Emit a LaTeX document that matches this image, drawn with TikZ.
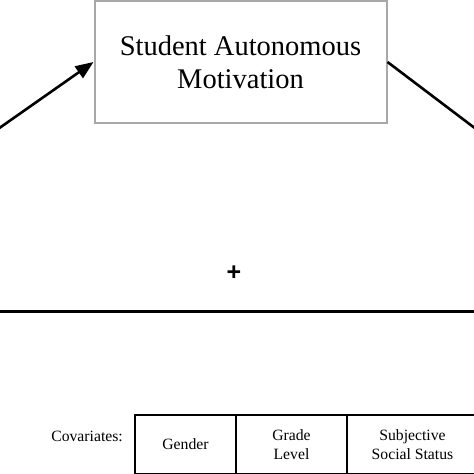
\documentclass[tikz,border=0pt]{standalone}
\usepackage{fontspec}
\setmainfont{Liberation Serif}
\newfontfamily\plusfont{Liberation Sans}
\usetikzlibrary{arrows.meta}
\definecolor{boxgray}{RGB}{168,168,168}
\tikzset{
  mainbox/.style={draw=boxgray, line width=2pt, fill=white, minimum width=292pt, minimum height=122pt, align=center, inner sep=0pt, font=\fontsize{28.5}{33}\selectfont},
  covbox/.style={draw=black, line width=1.6pt, minimum height=59pt, align=center, inner sep=0pt, font=\fontsize{15.7}{19}\selectfont},
  path1/.style={line width=2.6pt},
  arr/.style={path1, -{Triangle[length=18pt,width=14pt]}}
}
\begin{document}
\begin{tikzpicture}[x=1pt,y=-1pt]
\useasboundingbox (0,0) rectangle (474,474);
\node[mainbox] (sam) at (240.5,62) {Student Autonomous\\Motivation};
\coordinate (L) at (-2,129);
\coordinate (R) at (476,129);
\draw[arr] (L) -- (sam.west);
\draw[path1] (sam.east) -- (R);
\node[font=\plusfont\bfseries\fontsize{25}{30}\selectfont, inner sep=0pt] (plus) at (234,273) {+};
\coordinate (hl) at (-2,311);
\coordinate (hr) at (476,311);
\draw[line width=3pt] (hl) -- (hr);
\node[font=\fontsize{15.7}{19}\selectfont, anchor=east, inner sep=0pt] (cov) at (123,436) {Covariates:};
\node[covbox, minimum width=101pt] (gen) at (185.5,444.5) {Gender};
\node[covbox, minimum width=111pt] (grade) at (291.5,444.5) {Grade\\Level};
\node[covbox, minimum width=131pt] (sss) at (412.5,444.5) {Subjective\\Social Status};
\end{tikzpicture}
\end{document}
